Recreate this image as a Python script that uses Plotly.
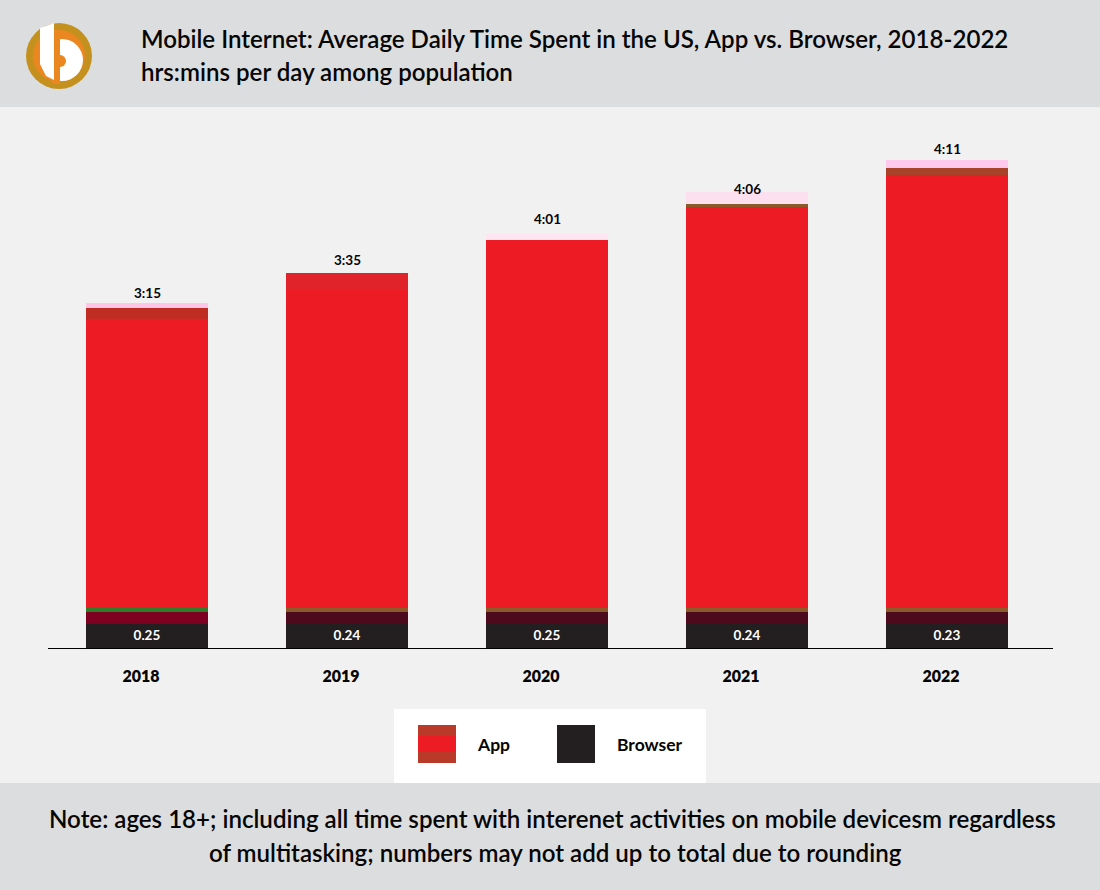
import plotly.graph_objects as go

# Data (bar heights in axis units, labels as printed)
years = ["2018", "2019", "2020", "2021", "2022"]
browser = [0.25, 0.25, 0.25, 0.25, 0.25]
browser_labels = ["0.25", "0.24", "0.25", "0.24", "0.23"]
app_dark = [0.125, 0.125, 0.125, 0.125, 0.125]
app_edge = [0.04, 0.04, 0.04, 0.04, 0.04]
app_main = [3.01, 3.31, 3.84, 4.18, 4.51]
app_top = [0.115, 0.18, 0.0, 0.03, 0.08]
glow = [0.05, 0.0, 0.06, 0.125, 0.08]
total_labels = ["3:15", "3:35", "4:01", "4:06", "4:11"]

# gap above each stack to its total label, px
total_gaps = [0, 3, 5, -7, 1]

dark_colors = ["#7d0020", "#4d0a1c", "#4d0a1c", "#4d0a1c", "#4d0a1c"]
edge_colors = ["#2f7d2a", "#8b5a2b", "#8b5a2b", "#8b5a2b", "#8b5a2b"]
top_colors = ["#c02d23", "#e0232a", "#ed1c24", "#8b5a2b", "#a8432a"]
glow_colors = ["#ffc6e8", "#fde0f0", "#fde6f2", "#fde0f0", "#ffc9ee"]

W, H = 1100, 890
FONT = "Lato"
INK = "#050505"


def px(x):
    return x / W


def py(y):
    return 1 - y / H


def rect(x0, y0, x1, y1, color, layer="below"):
    return dict(type="rect", xref="paper", yref="paper", x0=px(x0), x1=px(x1),
                y0=py(y0), y1=py(y1), fillcolor=color, line_width=0, layer=layer)


def circle(cx, cy, r, color):
    return dict(type="circle", xref="paper", yref="paper", x0=px(cx - r), x1=px(cx + r),
                y0=py(cy - r), y1=py(cy + r), fillcolor=color, line_width=0, layer="above")


def path(points, color):
    d = "M " + " L ".join(f"{px(x)},{py(y)}" for x, y in points) + " Z"
    return dict(type="path", xref="paper", yref="paper", path=d, fillcolor=color,
                line_width=0, layer="above")


def label(text, x, y, size, anchor="left", color=INK, weight=600):
    return dict(text=text, xref="paper", yref="paper", x=px(x), y=py(y), showarrow=False,
                xanchor=anchor, yanchor="middle",
                font=dict(family=FONT, size=size, color=color, weight=weight))


fig = go.Figure()

fig.add_bar(x=years, y=browser, name="Browser", marker_color="#231f20", text=browser_labels,
            textposition="inside", insidetextanchor="end", textangle=0, constraintext="none",
            textfont=dict(family=FONT, size=13.5, color="white", weight=700))
fig.add_bar(x=years, y=app_dark, marker_color=dark_colors)
fig.add_bar(x=years, y=app_edge, marker_color=edge_colors)
fig.add_bar(x=years, y=app_main, name="App", marker_color="#ed1c24")
fig.add_bar(x=years, y=app_top, marker_color=top_colors)
fig.add_bar(x=years, y=glow, marker_color=glow_colors)
fig.update_traces(marker_line_width=0)

annotations = []
for i in range(len(years)):
    stack = browser[i] + app_dark[i] + app_edge[i] + app_main[i] + app_top[i] + glow[i]
    # category index, a year string would be read as a position on the axis
    annotations.append(dict(text=total_labels[i], xref="x", yref="y", x=i, y=stack,
                            yanchor="bottom", yshift=total_gaps[i], showarrow=False,
                            font=dict(family=FONT, size=13.5, color=INK, weight=700)))

annotations += [
    label("Mobile Internet: Average Daily Time Spent in the US, App vs. Browser, 2018-2022", 139, 38, 24.1),
    label("hrs:mins per day among population", 139, 72, 24.1),
    label("Note: ages 18+; including all time spent with interenet activities on mobile devicesm regardless", 552.5, 818, 24.1, "center"),
    label("of multitasking; numbers may not add up to total due to rounding", 555.5, 852, 24.1, "center"),
    label("App", 475, 744, 17.5, weight=700),
    label("Browser", 615, 744, 17.5, weight=700),
]

shapes = [
    rect(0, 0, W, 107, "#dcddde"),
    rect(0, 783, W, H, "#dcddde"),
    rect(394, 709, 706, 783, "#ffffff"),
    # legend swatches
    rect(418, 725, 456, 763, "#b93a28", "above"),
    rect(418, 736, 456, 752, "#ed1c24", "above"),
    rect(557, 725, 595, 763, "#231f20", "above"),
    # logo
    circle(59, 56, 33, "#c4901e"),
    circle(59, 56, 26, "#ea8720"),
    circle(62, 60, 21, "#ffffff"),
    rect(52, 30, 60, 84, "#ea8720", "above"),
    path([(40, 28), (54, 23), (54, 80), (46, 76), (40, 64)], "#ffffff"),
    circle(60, 61, 6, "#ea8720"),
]

fig.update_layout(
    width=W,
    height=H,
    barmode="stack",
    bargap=0.39,
    showlegend=False,
    paper_bgcolor="#f2f1f2",
    plot_bgcolor="rgba(0,0,0,0)",
    margin=dict(l=0, r=0, t=0, b=0, autoexpand=False),
    shapes=shapes,
    annotations=annotations,
    xaxis=dict(domain=[px(48), px(1053)], range=[-0.495, 4.53], type="category",
               showline=True, linecolor="#000000", linewidth=1, showgrid=False, ticks="",
               ticklabelstandoff=14, ticklabelshift=-6,
               tickfont=dict(family=FONT, size=16, color=INK, weight=800)),
    yaxis=dict(domain=[py(648), py(107)], range=[0, 541 / 96], visible=False),
)

# page margin would push the figure 8px off the window
fig.write_html("out.html", config={"displayModeBar": False},
               post_script="document.body.style.margin='0';")
